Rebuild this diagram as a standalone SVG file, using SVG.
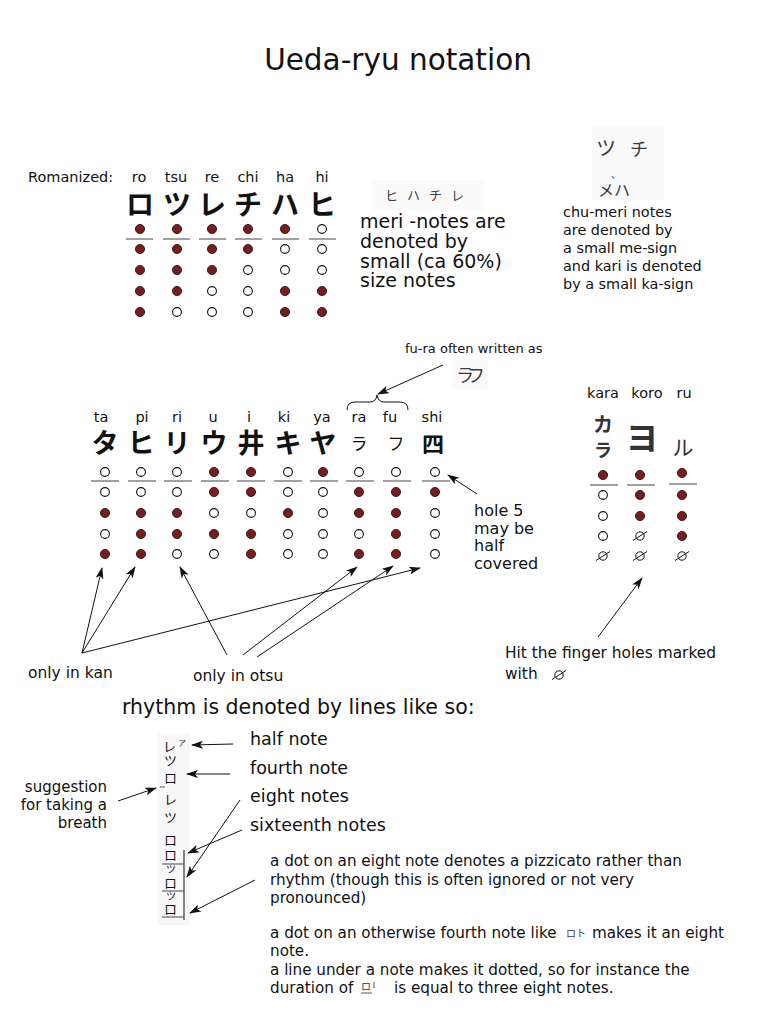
<svg xmlns="http://www.w3.org/2000/svg" width="768" height="1024" viewBox="0 0 768 1024">
<defs>
<style>
text{font-family:"DejaVu Sans","Noto Sans CJK JP",sans-serif;fill:#111}
.t{font-size:14.5px}
.lab{font-size:14.5px;text-anchor:middle}
.kana{font-family:"Noto Sans CJK JP","Noto Sans CJK SC",sans-serif;font-weight:bold;fill:#333;text-anchor:middle}
.k{font-family:"Noto Sans CJK JP","Noto Sans CJK SC",sans-serif;fill:#3a3a3a}
.f{fill:#7b1c1c;stroke:#111;stroke-width:0.8}
.o{fill:#fff;stroke:#111;stroke-width:1.1}
.bar{stroke:#8a8a8a;stroke-width:1.6}
.x{fill:none;stroke:#111;stroke-width:1}
.c{fill:none;stroke:#111;stroke-width:1}
.ca{fill:none;stroke:#111;stroke-width:1;marker-end:url(#ah)}
</style>
<marker id="ah" viewBox="0 0 12 8" refX="11" refY="4" markerWidth="12" markerHeight="8" markerUnits="userSpaceOnUse" orient="auto">
<path d="M0,0 L12,4 L0,8 L3,4 z" fill="#111"/>
</marker>
<circle id="F" r="4.6" class="f"/>
<circle id="O" r="4.4" class="o"/>
<g id="X"><circle r="4.2" class="x"/><line x1="-7" y1="4.5" x2="7" y2="-4.5" class="x"/></g>
</defs>
<rect width="768" height="1024" fill="#fff"/>

<g id="title"><text x="398" y="70" text-anchor="middle" style="font-size:29.5px">Ueda-ryu notation</text></g>

<!-- Top chart -->
<g id="top-chart">
<text x="28" y="182" class="t">Romanized:</text>
<text x="139" y="182" class="lab">ro</text>
<text x="176" y="182" class="lab">tsu</text>
<text x="212" y="182" class="lab">re</text>
<text x="248" y="182" class="lab">chi</text>
<text x="285" y="182" class="lab">ha</text>
<text x="322" y="182" class="lab">hi</text>
<g class="kana" style="font-size:28px">
<text x="140" y="215">ロ</text><text x="177" y="215">ツ</text><text x="212" y="215">レ</text><text x="248" y="215">チ</text><text x="285" y="215">ハ</text><text x="322" y="215">ヒ</text>
</g>
<g>
<line x1="126" y1="239" x2="153" y2="239" class="bar"/><line x1="163" y1="239" x2="190" y2="239" class="bar"/><line x1="199" y1="239" x2="226" y2="239" class="bar"/><line x1="235" y1="239" x2="262" y2="239" class="bar"/><line x1="272" y1="239" x2="299" y2="239" class="bar"/><line x1="309" y1="239" x2="336" y2="239" class="bar"/>
</g>
<g id="col-ro"><use href="#F" x="140" y="229"/><use href="#F" x="140" y="249"/><use href="#F" x="140" y="270"/><use href="#F" x="140" y="291"/><use href="#F" x="140" y="312"/></g>
<g id="col-tsu"><use href="#F" x="177" y="229"/><use href="#F" x="177" y="249"/><use href="#F" x="177" y="270"/><use href="#F" x="177" y="291"/><use href="#O" x="177" y="312"/></g>
<g id="col-re"><use href="#F" x="212" y="229"/><use href="#F" x="212" y="249"/><use href="#F" x="212" y="270"/><use href="#O" x="212" y="291"/><use href="#O" x="212" y="312"/></g>
<g id="col-chi"><use href="#F" x="248" y="229"/><use href="#F" x="248" y="249"/><use href="#O" x="248" y="270"/><use href="#O" x="248" y="291"/><use href="#O" x="248" y="312"/></g>
<g id="col-ha"><use href="#F" x="285" y="229"/><use href="#O" x="285" y="249"/><use href="#O" x="285" y="270"/><use href="#F" x="285" y="291"/><use href="#F" x="285" y="312"/></g>
<g id="col-hi"><use href="#O" x="322" y="229"/><use href="#O" x="322" y="249"/><use href="#O" x="322" y="270"/><use href="#F" x="322" y="291"/><use href="#F" x="322" y="312"/></g>
</g>

<!-- Meri note -->
<g id="meri">
<rect x="372" y="180" width="112" height="30" fill="#fafafa"/>
<text class="k" x="385" y="200" style="font-size:13px;letter-spacing:9px">ヒハチレ</text>
<g style="font-size:19px">
<text x="360" y="228">meri -notes are</text>
<text x="360" y="248">denoted by</text>
<text x="360" y="267.5">small (ca 60%)</text>
<text x="360" y="287">size notes</text>
</g>
</g>

<!-- Chu-meri note -->
<g id="chu-meri">
<rect x="592" y="125" width="72" height="75" fill="#fafafa"/>
<text class="k" x="596" y="156" style="font-size:20px">ツ</text>
<text class="k" x="611" y="178" style="font-size:10px">、</text>
<text class="k" x="630" y="156" style="font-size:18px">チ</text>
<text class="k" x="598" y="196" style="font-size:16px">メハ</text>
<g style="font-size:14.4px">
<text x="563" y="217">chu-meri notes</text>
<text x="563" y="235">are denoted by</text>
<text x="563" y="253">a small me-sign</text>
<text x="563" y="271">and kari is denoted</text>
<text x="563" y="289">by a small ka-sign</text>
</g>
</g>

<!-- Middle chart -->
<g id="mid-chart">
<g>
<text x="101" y="422" class="lab">ta</text><text x="142" y="422" class="lab">pi</text><text x="177" y="422" class="lab">ri</text><text x="213" y="422" class="lab">u</text><text x="249" y="422" class="lab">i</text><text x="284" y="422" class="lab">ki</text><text x="322" y="422" class="lab">ya</text><text x="359" y="422" class="lab">ra</text><text x="390" y="422" class="lab">fu</text><text x="432" y="422" class="lab">shi</text>
</g>
<g class="kana" style="font-size:27px">
<text x="105" y="453">タ</text><text x="141" y="453">ヒ</text><text x="177" y="453">リ</text><text x="214" y="453">ウ</text><text x="251" y="453">井</text><text x="288" y="453">キ</text><text x="323" y="453">ヤ</text><text x="433" y="452" style="font-size:22px">四</text>
</g>
<g class="kana" style="font-size:17px;font-weight:normal;fill:#555">
<text x="359" y="450">ラ</text><text x="396" y="450">フ</text>
</g>
<g>
<line x1="91" y1="481" x2="119" y2="481" class="bar"/><line x1="128" y1="481" x2="156" y2="481" class="bar"/><line x1="164" y1="481" x2="192" y2="481" class="bar"/><line x1="201" y1="481" x2="229" y2="481" class="bar"/><line x1="237" y1="481" x2="265" y2="481" class="bar"/><line x1="274" y1="481" x2="302" y2="481" class="bar"/><line x1="310" y1="481" x2="338" y2="481" class="bar"/><line x1="346" y1="481" x2="374" y2="481" class="bar"/><line x1="383" y1="481" x2="411" y2="481" class="bar"/><line x1="422" y1="481" x2="450" y2="481" class="bar"/>
</g>
<g id="col-ta"><use href="#O" x="105" y="472"/><use href="#O" x="105" y="492"/><use href="#F" x="105" y="513"/><use href="#O" x="105" y="534"/><use href="#F" x="105" y="554"/></g>
<g id="col-pi"><use href="#O" x="141" y="472"/><use href="#O" x="141" y="492"/><use href="#F" x="141" y="513"/><use href="#F" x="141" y="534"/><use href="#F" x="141" y="554"/></g>
<g id="col-ri"><use href="#O" x="177" y="472"/><use href="#O" x="177" y="492"/><use href="#F" x="177" y="513"/><use href="#F" x="177" y="534"/><use href="#O" x="177" y="554"/></g>
<g id="col-u"><use href="#F" x="214" y="472"/><use href="#F" x="214" y="492"/><use href="#O" x="214" y="513"/><use href="#F" x="214" y="534"/><use href="#O" x="214" y="554"/></g>
<g id="col-i"><use href="#F" x="251" y="472"/><use href="#F" x="251" y="492"/><use href="#O" x="251" y="513"/><use href="#F" x="251" y="534"/><use href="#F" x="251" y="554"/></g>
<g id="col-ki"><use href="#O" x="288" y="472"/><use href="#O" x="288" y="492"/><use href="#F" x="288" y="513"/><use href="#O" x="288" y="534"/><use href="#O" x="288" y="554"/></g>
<g id="col-ya"><use href="#F" x="323" y="472"/><use href="#O" x="323" y="492"/><use href="#O" x="323" y="513"/><use href="#O" x="323" y="534"/><use href="#O" x="323" y="554"/></g>
<g id="col-ra"><use href="#O" x="359" y="472"/><use href="#F" x="359" y="492"/><use href="#F" x="359" y="513"/><use href="#O" x="359" y="534"/><use href="#F" x="359" y="554"/></g>
<g id="col-fu"><use href="#O" x="396" y="472"/><use href="#F" x="396" y="492"/><use href="#F" x="396" y="513"/><use href="#F" x="396" y="534"/><use href="#F" x="396" y="554"/></g>
<g id="col-shi"><use href="#O" x="435" y="472"/><use href="#F" x="435" y="492"/><use href="#O" x="435" y="513"/><use href="#O" x="435" y="534"/><use href="#O" x="435" y="554"/></g>
<path d="M347,410 Q347,402 355,402 L370,402 Q376,402 377,395 Q378,402 384,402 L400,402 Q408,402 408,410" class="c"/>
</g>

<g id="fu-ra-note">
<text x="405" y="353" style="font-size:13px">fu-ra often written as</text>
<rect x="452" y="360" width="36" height="30" fill="#fafafa"/>
<text class="k" x="456" y="382" style="font-size:18px;letter-spacing:-7px">ラフ</text>
</g>

<g id="hole5">
<g style="font-size:16px">
<text x="474" y="516">hole 5</text>
<text x="474" y="533.5">may be</text>
<text x="474" y="551">half</text>
<text x="474" y="568.5">covered</text>
</g>
</g>

<!-- Right chart -->
<g id="right-chart">
<text x="603" y="398" class="lab">kara</text><text x="647" y="398" class="lab">koro</text><text x="684" y="398" class="lab">ru</text>
<text class="kana" x="603" y="432" style="font-size:20px">カ</text>
<text class="kana" x="603" y="457" style="font-size:18px">ラ</text>
<text class="kana" x="642" y="450" style="font-size:33px">ヨ</text>
<text class="kana" x="683" y="455" style="font-size:21px;font-weight:normal">ル</text>
<line x1="590" y1="485" x2="618" y2="485" class="bar"/><line x1="627" y1="485" x2="655" y2="485" class="bar"/><line x1="669" y1="484" x2="697" y2="484" class="bar"/>
<g id="col-kara"><use href="#F" x="603" y="475"/><use href="#O" x="603" y="495"/><use href="#O" x="603" y="516"/><use href="#O" x="603" y="536"/><use href="#X" x="603" y="556"/></g>
<g id="col-koro"><use href="#F" x="640" y="475"/><use href="#F" x="640" y="495"/><use href="#F" x="640" y="516"/><use href="#X" x="640" y="536"/><use href="#X" x="640" y="556"/></g>
<g id="col-ru"><use href="#F" x="682" y="473"/><use href="#F" x="682" y="495"/><use href="#F" x="682" y="516"/><use href="#F" x="682" y="536"/><use href="#X" x="682" y="556"/></g>
</g>

<g id="hit-note">
<text x="505" y="658" style="font-size:15.4px">Hit the finger holes marked</text>
<text x="505" y="679" style="font-size:15.4px">with</text>
<use href="#X" x="559" y="675"/>
</g>

<g id="kan-label"><text x="28" y="678" style="font-size:15.5px">only in kan</text></g>
<g id="otsu-label"><text x="193" y="681" style="font-size:15.5px">only in otsu</text></g>

<!-- Rhythm section -->
<g id="rhythm-title"><text x="122" y="714" style="font-size:20.5px">rhythm is denoted by lines like so:</text></g>

<g id="rhythm-strip">
<rect x="158" y="733" width="32" height="192" fill="#f8f8f8"/>
<g class="k" style="font-size:13px">
<text x="163" y="751">レ</text>
<text x="164" y="765">ツ</text>
<text x="164" y="783">ロ</text>
<text x="164" y="804">レ</text>
<text x="164" y="822">ツ</text>
<text x="164" y="845">ロ</text>
<text x="164" y="860">ロ</text>
<text x="166" y="873" style="font-size:10px">ツ</text>
<text x="164" y="888">ロ</text>
<text x="166" y="900" style="font-size:10px">ツ</text>
<text x="164" y="914">ロ</text>
</g>
<text class="k" x="178" y="746" style="font-size:8px">ア</text>
<line x1="160" y1="787" x2="165" y2="787" stroke="#555" stroke-width="1"/>
<line x1="184" y1="850" x2="184" y2="920" stroke="#444" stroke-width="1.3"/>
<line x1="162" y1="864" x2="184" y2="864" stroke="#444" stroke-width="1"/>
<line x1="162" y1="891" x2="184" y2="891" stroke="#444" stroke-width="1"/>
<line x1="162" y1="917" x2="184" y2="917" stroke="#444" stroke-width="1"/>
</g>

<g id="rhythm-labels" style="font-size:17.5px">
<text x="250" y="745">half note</text>
<text x="250" y="774">fourth note</text>
<text x="250" y="802">eight notes</text>
<text x="250" y="831">sixteenth notes</text>
</g>

<g id="suggestion" style="font-size:15px" text-anchor="end">
<text x="107" y="792">suggestion</text>
<text x="107" y="810">for taking a</text>
<text x="107" y="828">breath</text>
</g>

<g id="notes-text" style="font-size:15.2px">
<text x="270" y="866">a dot on an eight note denotes a pizzicato rather than</text>
<text x="270" y="885">rhythm (though this is often ignored or not very</text>
<text x="270" y="903">pronounced)</text>
<text x="270" y="938">a dot on an otherwise fourth note like</text>
<text class="k" x="566" y="937" style="font-size:10px">ロト</text>
<text x="592" y="938">makes it an eight</text>
<text x="270" y="956">note.</text>
<text x="270" y="975">a line under a note makes it dotted, so for instance the</text>
<text x="270" y="993">duration of</text>
<text class="k" x="361" y="990" style="font-size:10px">ロ</text>
<line x1="361" y1="993" x2="372" y2="993" stroke="#555" stroke-width="1"/>
<line x1="374" y1="982" x2="374" y2="988" stroke="#555" stroke-width="1"/>
<text x="394" y="993">is equal to three eight notes.</text>
</g>

<!-- Connectors -->
<g id="connectors">
<line x1="443" y1="365" x2="378" y2="394" class="ca"/>
<line x1="477" y1="494" x2="448" y2="475" class="ca"/>
<line x1="82" y1="653" x2="102" y2="568" class="ca"/>
<line x1="82" y1="653" x2="135" y2="567" class="ca"/>
<line x1="82" y1="653" x2="420" y2="568" class="ca"/>
<line x1="227" y1="655" x2="180" y2="567" class="ca"/>
<line x1="243" y1="655" x2="357" y2="567" class="ca"/>
<line x1="257" y1="657" x2="393" y2="566" class="ca"/>
<line x1="598" y1="637" x2="642" y2="578" class="ca"/>
<line x1="233" y1="744" x2="192" y2="745" class="ca"/>
<line x1="230" y1="774" x2="187" y2="774" class="ca"/>
<line x1="118" y1="801" x2="156" y2="788" class="ca"/>
<line x1="240" y1="800" x2="187" y2="877" class="ca"/>
<line x1="242" y1="830" x2="188" y2="853" class="ca"/>
<line x1="255" y1="880" x2="190" y2="913" class="ca"/>
</g>
</svg>
